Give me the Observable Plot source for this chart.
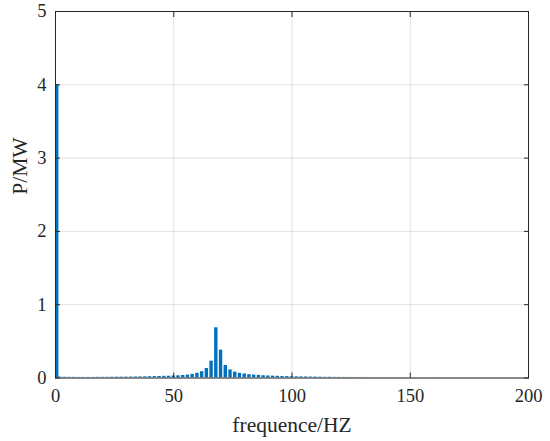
<!DOCTYPE html>
<html>
<head>
<meta charset="utf-8">
<script src="https://cdn.jsdelivr.net/npm/d3@7"></script>
<script src="https://cdn.jsdelivr.net/npm/@observablehq/plot@0.6"></script>
<style>
  html, body { margin: 0; padding: 0; background: #fff; }
  #chart svg text { font-family: 'Liberation Serif', 'Times New Roman', serif !important; }
</style>
</head>
<body>
<div id="chart"></div>
<script>
// Frequency bins (Hz), spacing 2 Hz
const freq = d3.range(0, 201, 2);
// Power (MW) per bin
const power = [
  4.0,                                                     // 0
  0.012, 0.010, 0.009, 0.009, 0.008, 0.008, 0.008, 0.008,  // 2-16
  0.009, 0.009, 0.010, 0.010, 0.011, 0.011, 0.012, 0.013,  // 18-32
  0.014, 0.015, 0.016, 0.018, 0.019, 0.021, 0.023, 0.024,  // 34-48
  0.027, 0.030, 0.034, 0.040, 0.050, 0.064, 0.086, 0.13,   // 50-64
  0.23, 0.685, 0.38, 0.17, 0.11, 0.080, 0.064, 0.055,      // 66-80
  0.046, 0.040, 0.036, 0.031, 0.028, 0.025, 0.023, 0.021,  // 82-96
  0.019, 0.017, 0.016, 0.015, 0.014, 0.013, 0.012, 0.011,  // 98-112
  0.010, 0.010, 0.009, 0.008, 0.008, 0.007, 0.007, 0.006,  // 114-128
  0.006, 0.006, 0.005, 0.005, 0.005, 0.004, 0.004, 0.004,  // 130-144
  0.004, 0.004, 0.003, 0.003, 0.003, 0.003, 0.003, 0.003,  // 146-160
  0.003, 0.003, 0.002, 0.002, 0.002, 0.002, 0.002, 0.002,  // 162-176
  0.002, 0.002, 0.002, 0.002, 0.002, 0.002, 0.002, 0.002,  // 178-192
  0.002, 0.002, 0.002, 0.002                               // 194-200
];
const xTicks = [0, 50, 100, 150, 200];
const yTicks = [0, 1, 2, 3, 4, 5];
const xLabel = "frequence/HZ";
const yLabel = "P/MW";

const data = freq.map((f, i) => ({f, p: power[i]}));

const font = "'Liberation Serif', 'Times New Roman', serif";
const ink = "#262626";
const halfW = d => (d.f === 0 ? 1.45 : 0.72);

const chart = Plot.plot({
  width: 550,
  height: 441,
  marginLeft: 55,
  marginRight: 22,
  marginTop: 11,
  marginBottom: 63.5,
  style: {fontFamily: font, color: ink, background: "#fff"},
  x: {domain: [0, 200], label: null},
  y: {domain: [0, 5], label: null},
  marks: [
    Plot.gridX(xTicks, {stroke: "#000", strokeOpacity: 0.12}),
    Plot.gridY(yTicks, {stroke: "#000", strokeOpacity: 0.12}),
    Plot.rectY(data, {
      x1: d => d.f - halfW(d),
      x2: d => d.f + halfW(d),
      y1: 0,
      y2: "p",
      fill: "#0072BD",
      clip: true
    }),
    Plot.frame({stroke: ink, strokeWidth: 1}),
    // tick labels
    Plot.axisX(xTicks, {anchor: "bottom", tickSize: 0, tickPadding: 11, fontSize: 18.5, fontFamily: font, fill: ink, tickFormat: d3.format("d"), label: null}),
    Plot.axisY(yTicks, {anchor: "left", tickSize: 0, tickPadding: 9, fontSize: 18.5, fontFamily: font, fill: ink, tickFormat: d3.format("d"), label: null}),
    // inward ticks on all four sides
    Plot.axisX(xTicks, {anchor: "bottom", tickSize: -5, tickFormat: () => "", stroke: ink, label: null}),
    Plot.axisX(xTicks, {anchor: "top", tickSize: -5, tickFormat: () => "", stroke: ink, label: null}),
    Plot.axisY(yTicks, {anchor: "left", tickSize: -5, tickFormat: () => "", stroke: ink, label: null}),
    Plot.axisY(yTicks, {anchor: "right", tickSize: -5, tickFormat: () => "", stroke: ink, label: null}),
    // axis titles
    Plot.text([xLabel], {text: d => d, frameAnchor: "bottom", dy: 47.5, lineAnchor: "middle", fontSize: 21.5, fontFamily: font, fill: ink}),
    Plot.text([yLabel], {text: d => d, frameAnchor: "left", dx: -35, rotate: -90, lineAnchor: "middle", fontSize: 21.5, fontFamily: font, fill: ink})
  ]
});

document.getElementById("chart").append(chart);
</script>
</body>
</html>
